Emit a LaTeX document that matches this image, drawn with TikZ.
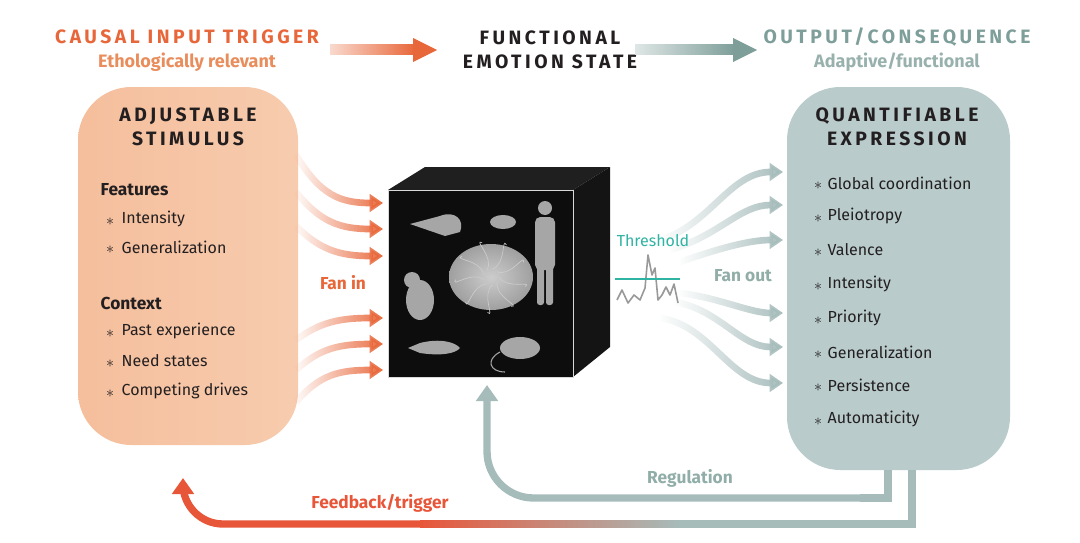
\documentclass[tikz,border=0pt]{standalone}
\usepackage{fontspec}
\setmainfont{Fira Sans}
\newfontfamily\spaced[LetterSpace=18]{Fira Sans}
\usetikzlibrary{arrows.meta,fadings,shapes.geometric}
\definecolor{peach}{HTML}{F6C6A5}
\definecolor{orng}{HTML}{E8673A}
\definecolor{lorng}{HTML}{E98D5C}
\definecolor{sage}{HTML}{B9CBCB}
\definecolor{sagedk}{HTML}{7E9E99}
\definecolor{reg}{HTML}{A6BCBB}
\definecolor{fbred}{HTML}{E8563A}
\definecolor{teal}{HTML}{2FB3A3}
\definecolor{txt}{HTML}{231F20}
\tikzset{
  head/.style={font=\spaced\bfseries\fontsize{14.5}{18}\selectfont,align=center},
  sub/.style={font=\bfseries\fontsize{13.5}{16}\selectfont},
  item/.style={font=\fontsize{12}{14}\selectfont,anchor=west,text=txt},
  sect/.style={font=\bfseries\fontsize{13}{15}\selectfont,anchor=west,text=txt},
  star/.style={font=\bfseries\fontsize{13}{12}\selectfont,text=txt},
  fanin/.style={draw=orng,line width=5pt,path fading=west,-{Triangle[length=10pt,width=13pt]}},
  fanout/.style={draw=reg,line width=5pt,path fading=west,-{Triangle[length=10pt,width=13pt]}},
  critter/.style={fill=gray!70,draw=none}
}
\begin{document}
\begin{tikzpicture}[x=0.75pt,y=-0.75pt]
\useasboundingbox (0,0) rectangle (1080,542);
% headers
\node[head,text=orng] (h1) at (187,37) {CAUSAL INPUT TRIGGER};
\node[sub,text=lorng] (h1s) at (187,62) {Ethologically relevant};
\node[head,text=txt] (h2) at (550,50) {FUNCTIONAL\\EMOTION STATE};
\node[head,text=sagedk] (h3) at (897,37) {OUTPUT/CONSEQUENCE};
\node[sub,text=sagedk!80] (h3s) at (897,62) {Adaptive/functional};
\shade[left color=orng!25,right color=orng] (330,45) rectangle (415,55);
\fill[orng] (413,38) -- (437,50) -- (413,62) -- cycle;
\shade[left color=sagedk!25,right color=sagedk] (635,45) rectangle (735,55);
\fill[sagedk] (733,38) -- (757,50) -- (733,62) -- cycle;
% boxes
\shade[rounded corners=40pt,left color=peach!92!orng,right color=peach!90] (78,87) rectangle (298,445);
\fill[sage,rounded corners=40pt] (787,87) rectangle (1010,470);
\node[head,text=txt] (lb) at (188,127) {ADJUSTABLE\\STIMULUS};
\node[head,text=txt] (rb) at (897,127) {QUANTIFIABLE\\EXPRESSION};
\node[sect] (feat) at (96,190) {Features};
\foreach \y/\t in {219/Intensity,247/Generalization,331/Past experience,361/Need states,391/Competing drives}{
  \node[star] at (110,\y+3) {$\ast$};
  \node[item] at (117,\y) {\t};}
\node[sect] (ctx) at (96,303) {Context};
\foreach \y/\t in {183/Global coordination,216/Pleiotropy,250/Valence,284/Intensity,318/Priority,352/Generalization,385/Persistence,419/Automaticity}{
  \node[star] at (818,\y+3) {$\ast$};
  \node[item] at (823,\y) {\t};}
% fan in
\coordinate (i1) at (383,203); \coordinate (i2) at (383,229); \coordinate (i3) at (383,256);
\coordinate (i4) at (383,318); \coordinate (i5) at (383,344); \coordinate (i6) at (383,370);
\draw[fanin] (296,155) .. controls (320,195) and (340,203) .. (i1);
\draw[fanin] (296,192) .. controls (320,222) and (340,229) .. (i2);
\draw[fanin] (296,226) .. controls (320,250) and (340,256) .. (i3);
\draw[fanin] (296,340) .. controls (320,322) and (340,318) .. (i4);
\draw[fanin] (296,370) .. controls (320,348) and (340,344) .. (i5);
\draw[fanin] (296,402) .. controls (320,374) and (340,370) .. (i6);
\node[font=\bfseries\fontsize{13}{15}\selectfont,text=orng] (fanin) at (343,283) {Fan in};
% fan out
\draw[fanout] (660,240) .. controls (710,225) and (730,172) .. (783,172);
\draw[fanout] (670,250) .. controls (720,235) and (740,205) .. (783,205);
\draw[fanout] (680,262) .. controls (720,248) and (750,240) .. (783,240);
\draw[fanout] (680,293) .. controls (720,298) and (750,313) .. (783,313);
\draw[fanout] (675,302) .. controls (720,310) and (740,347) .. (783,347);
\draw[fanout] (660,318) .. controls (710,325) and (730,383) .. (783,383);
\node[font=\bfseries\fontsize{13}{15}\selectfont,text=sagedk!85] (fanout) at (743,276) {Fan out};
% threshold
\node[font=\fontsize{12}{14}\selectfont,text=teal] (thr) at (653,241) {Threshold};
\draw[gray!80,line width=1.2pt,line join=round] (617,300) -- (622,290) -- (628,303) -- (634,295) -- (640,300) -- (645,288) -- (648,255) -- (652,275) -- (655,268) -- (658,300) -- (662,295) -- (666,287) -- (670,295) -- (674,284) -- (678,303);
\draw[teal,line width=1.3pt] (615,279) -- (680,279);
% cube
\fill[black!88] (388,190) -- (425,167) -- (610,167) -- (573,190) -- cycle;
\fill[black!92] (573,190) -- (610,167) -- (610,347) -- (573,377) -- cycle;
\node[draw=white!70!gray,line width=0.8pt,fill=black!95,minimum width=138.75pt,minimum height=140.25pt,inner sep=0pt,anchor=north west] (cube) at (388,190) {};
% critters (simplified)
\shade[inner color=gray!40,outer color=gray!75] (491,277) ellipse (42 and 33);
\foreach \a in {0,40,...,320}{\draw[white!60!gray,line width=0.5pt] (491,277) ++(\a:8) .. controls +(\a+60:15) and +(\a-40:10) .. ++(\a+20:28);}
\fill[critter] (545,208) circle (7);
\fill[critter,rounded corners=4pt] (535,217) rectangle (555,270);
\fill[critter,rounded corners=2pt] (537,265) rectangle (544,305);
\fill[critter,rounded corners=2pt] (546,265) rectangle (553,305);
\fill[critter] (410,224) -- (440,216) .. controls (455,210) and (465,220) .. (460,232) -- (445,236) -- cycle;
\fill[critter] (503,222) ellipse (13 and 7);
\fill[critter] (420,300) ellipse (14 and 20);
\fill[critter] (412,280) circle (8);
\fill[critter] (408,348) -- (420,343) .. controls (440,338) and (455,342) .. (460,348) .. controls (455,354) and (440,356) .. (420,353) -- cycle;
\fill[critter] (520,348) ellipse (20 and 11);
\draw[gray!70,line width=0.8pt] (500,352) .. controls (485,360) and (490,372) .. (505,372);
% regulation
\draw[reg,line width=5.5pt] (888,470) -- (888,498) -- (860,498);
\draw[reg,line width=5.5pt,rounded corners=35pt,-{Triangle[length=12pt,width=16pt]}] (862,498) -- (487,498) -- (487,385);
\node[font=\bfseries\fontsize{13}{15}\selectfont,text=sagedk!85] (regl) at (690,478) {Regulation};
% feedback
\draw[reg,line width=5.5pt] (912,470) -- (912,524) -- (680,524);
\shade[left color=fbred,right color=reg] (420,520.3) rectangle (682,527.7);
\draw[fbred,line width=5.5pt,rounded corners=30pt,-{Triangle[length=12pt,width=16pt]}] (422,524) -- (183,524) -- (183,478);
\node[font=\bfseries\fontsize{13}{15}\selectfont,text=fbred] (fbl) at (380,503) {Feedback/trigger};
\end{tikzpicture}
\end{document}
